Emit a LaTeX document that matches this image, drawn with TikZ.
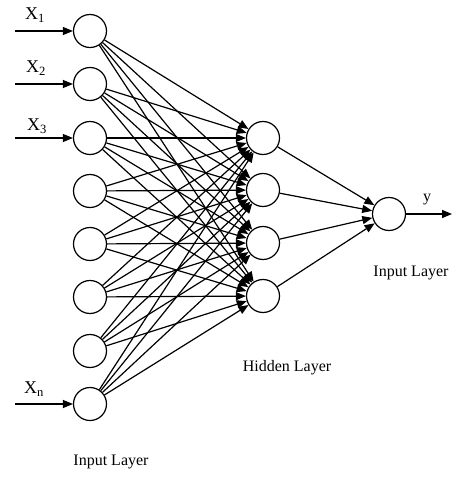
\documentclass[tikz,border=0pt]{standalone}
\usepackage{fontspec}
\setmainfont{Liberation Serif}
\usetikzlibrary{arrows.meta}

\begin{document}
\begin{tikzpicture}[x=1pt, y=-1pt, line width=1.2pt,
    neuron/.style={draw, circle, minimum size=33pt, inner sep=0pt},
    link/.style={-{Triangle[length=10pt,width=8pt]}},
    lbl/.style={font=\fontsize{16}{19}\selectfont},
    xlbl/.style={font=\fontsize{18}{21}\selectfont}]
    \useasboundingbox (0,0) rectangle (474,484);

    % Draw input nodes
    \foreach \i/\y in {1/31, 2/84, 3/138, 4/191, 5/244, 6/297, 7/351, 8/404}
        \node[neuron] (in\i) at (90,\y) {};

    % Draw hidden nodes
    \foreach \j/\y in {1/138, 2/190, 3/243, 4/296}
        \node[neuron] (hid\j) at (263,\y) {};

    % Draw output node
    \node[neuron] (out) at (389,214) {};

    % Add arrows from inputs to hidden layer
    \foreach \i in {1,...,8}
        \foreach \j in {1,...,4}
            \draw[link] (in\i) -- (hid\j);

    % Add arrows from hidden layer to output
    \foreach \j in {1,...,4}
        \draw[link] (hid\j) -- (out);

    % Add input arrows and labels
    \coordinate (s1) at (15,31);
    \coordinate (s2) at (15,84);
    \coordinate (s3) at (15,138);
    \coordinate (s8) at (15,404);
    \draw[link] (s1) -- (in1);
    \draw[link] (s2) -- (in2);
    \draw[link] (s3) -- (in3);
    \draw[link] (s8) -- (in8);
    \node[xlbl] (x1) at (35,15) {X\textsubscript{1}};
    \node[xlbl] (x2) at (36,68) {X\textsubscript{2}};
    \node[xlbl] (x3) at (37,126) {X\textsubscript{3}};
    \node[xlbl] (xn) at (34,389) {X\textsubscript{n}};

    % Add output arrow and label
    \coordinate (y) at (452,214);
    \draw[link] (out) -- (y);
    \node[lbl] (ylbl) at (427,200) {y};

    % Layer labels
    \node[lbl] (inlayer) at (111,462) {Input Layer};
    \node[lbl] (hidlayer) at (287,368) {Hidden Layer};
    \node[lbl] (outlayer) at (411,273) {Input Layer};
\end{tikzpicture}
\end{document}
